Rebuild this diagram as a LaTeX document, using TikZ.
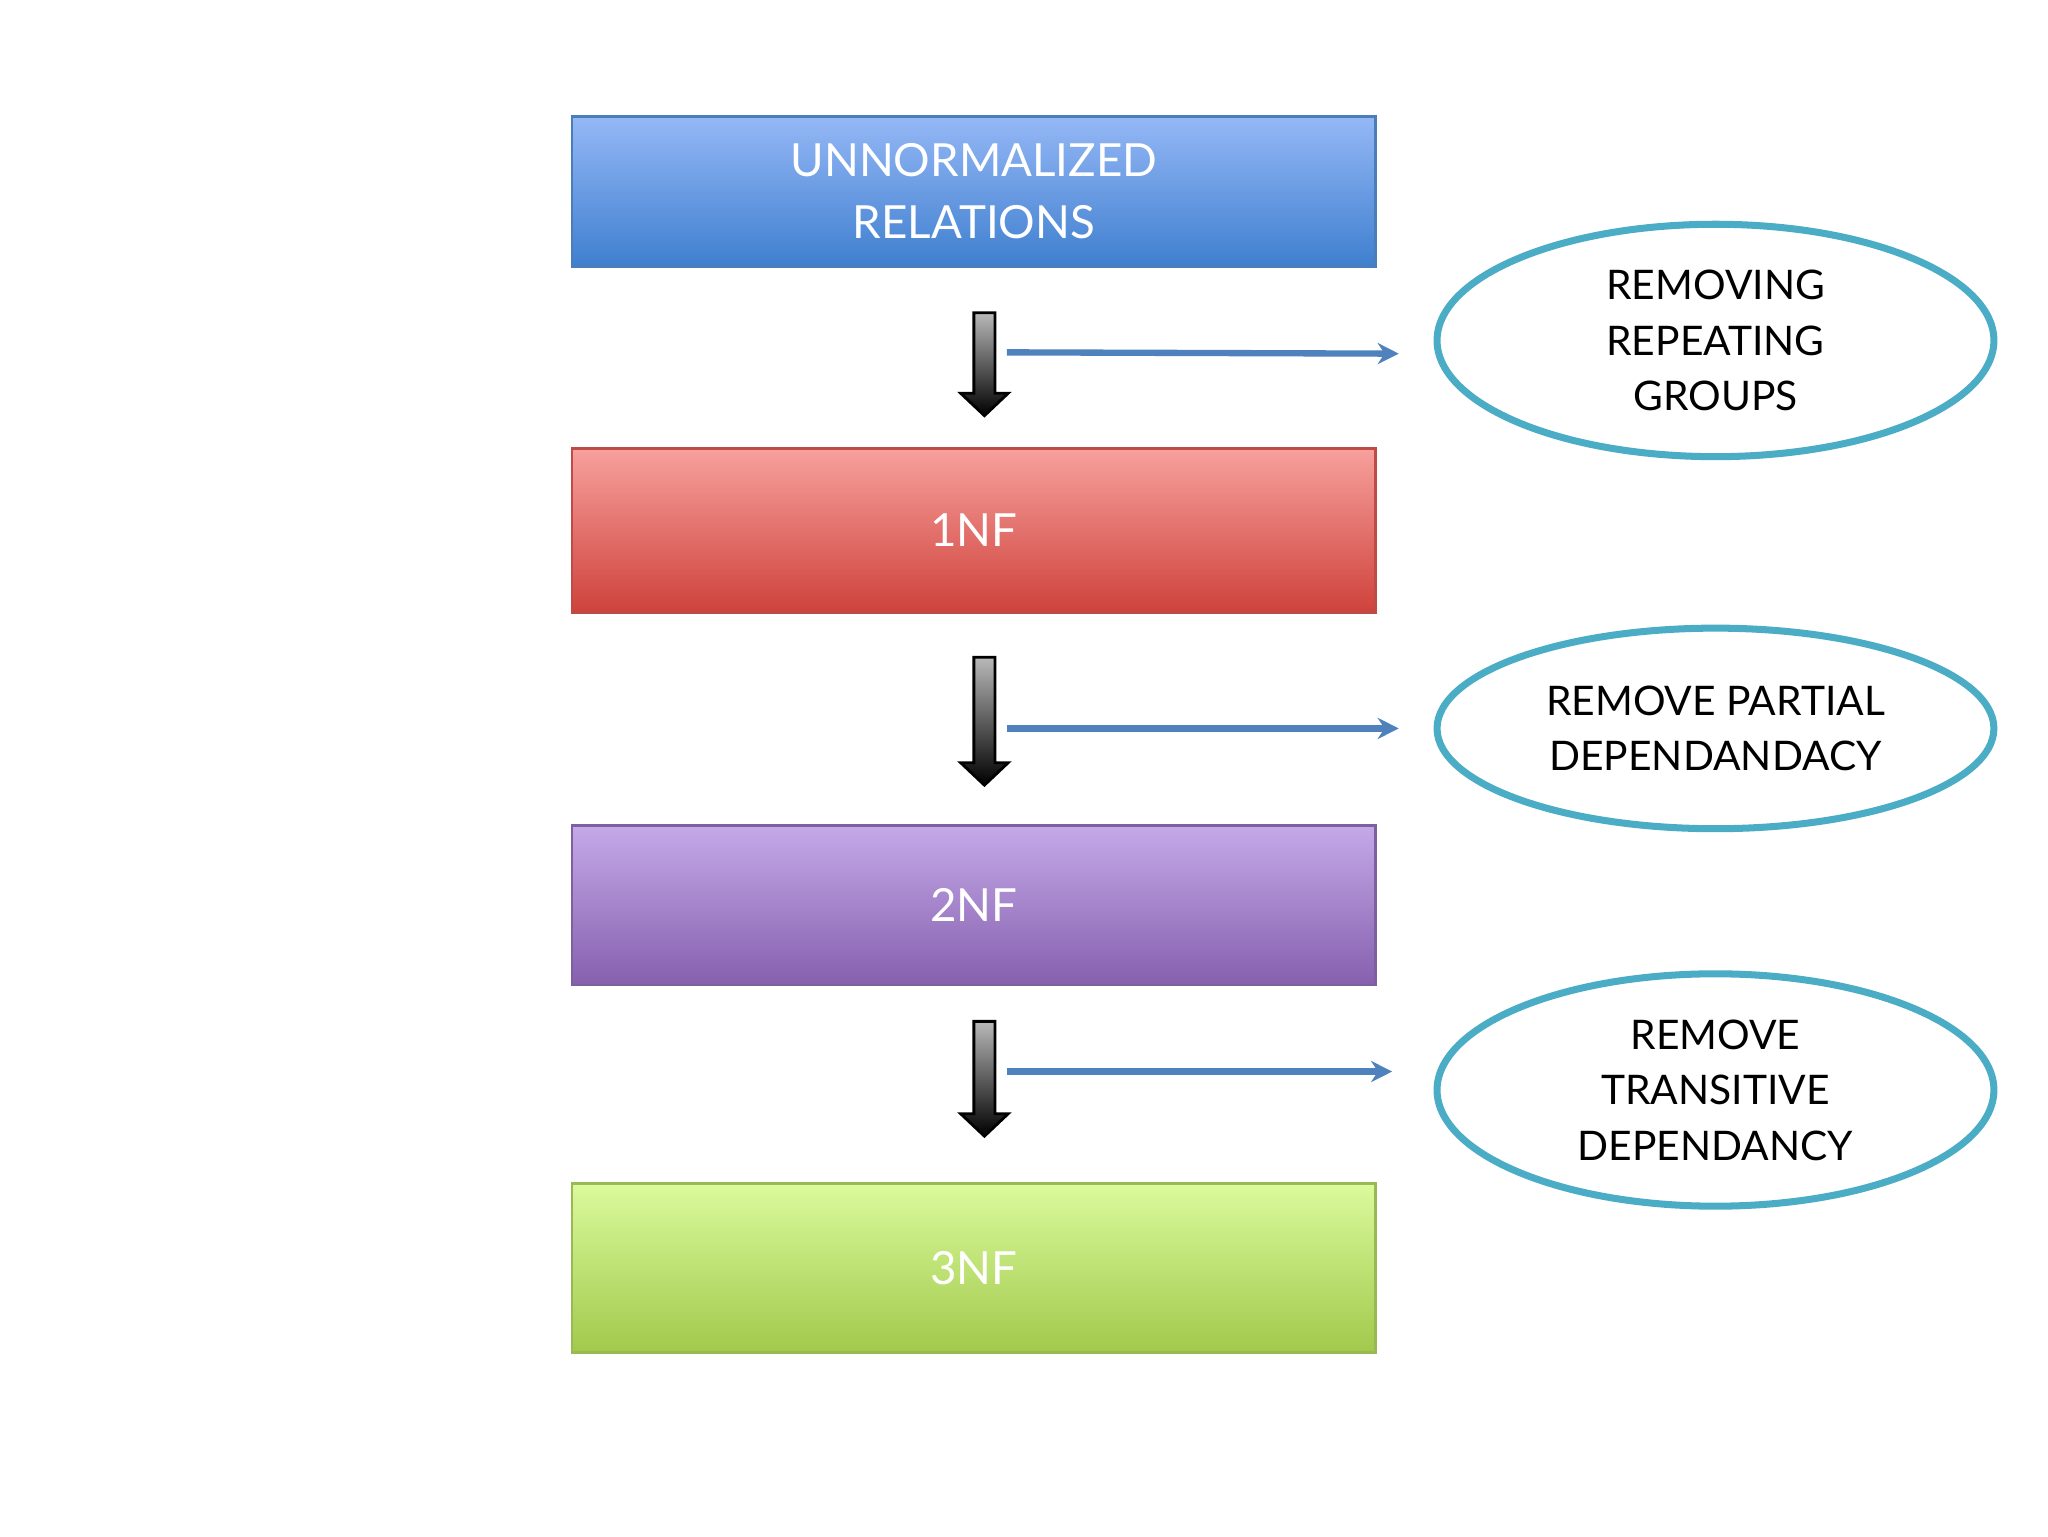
\documentclass[tikz,border=0pt]{standalone}
\usepackage{fontspec}
\setmainfont{Lato}
\usetikzlibrary{shapes.geometric,arrows.meta}
\definecolor{bT}{HTML}{95B8F6}\definecolor{bB}{HTML}{3F7FCF}\definecolor{bD}{HTML}{4A7EBB}
\definecolor{rT}{HTML}{F7A09C}\definecolor{rB}{HTML}{CF423C}\definecolor{rD}{HTML}{BE4B48}
\definecolor{vT}{HTML}{C4A9E8}\definecolor{vB}{HTML}{8660AE}\definecolor{vD}{HTML}{7D60A0}
\definecolor{gT}{HTML}{DAFA9C}\definecolor{gB}{HTML}{A2C94C}\definecolor{gD}{HTML}{98B954}
\definecolor{teal1}{HTML}{4BACC6}\definecolor{steel}{HTML}{4F81BD}
\begin{document}
\begin{tikzpicture}[x=0.0132cm,y=-0.0132cm,
 box/.style={draw=#1,line width=0.8pt,minimum width=609*0.0132cm,text=white,align=center,font=\fontsize{13}{17.8}\selectfont},
 ell/.style={draw=teal1,line width=2pt,ellipse,minimum width=422*0.0132cm,align=center,font=\fontsize{11.6}{15.8}\selectfont},
 flow/.style={draw=steel,line width=1.8pt,-{Stealth[length=6pt,width=6pt]}}]
\useasboundingbox (0,0) rectangle (1552,1164);
\node[box=bD,top color=bT,bottom color=bB,minimum height=114*0.0132cm] (b0) at (738,145) {UNNORMALIZED\\RELATIONS};
\node[box=rD,top color=rT,bottom color=rB,minimum height=124*0.0132cm] (b1) at (738,402) {1NF};
\node[box=vD,top color=vT,bottom color=vB,minimum height=121*0.0132cm] (b2) at (738,686) {2NF};
\node[box=gD,top color=gT,bottom color=gB,minimum height=128*0.0132cm] (b3) at (738,961) {3NF};
\node[ell,minimum height=164*0.0132cm] (e1) at (1300,258) {REMOVING\\REPEATING\\GROUPS};
\node[ell,minimum height=152*0.0132cm] (e2) at (1300,552) {REMOVE PARTIAL\\DEPENDANDACY};
\node[ell,minimum height=158*0.0132cm] (e3) at (1300,826) {REMOVE\\TRANSITIVE\\DEPENDANCY};
\foreach \t/\b/\h in {237/315/298, 498/595/578, 774/861/844}{
 \shade[top color=gray!55,bottom color=black,draw=black,line width=0.8pt]
  (738,\t)--(754,\t)--(754,\h)--(764,\h)--(746,\b)--(728,\h)--(738,\h)--cycle;}
\coordinate (s1) at (763,267); \coordinate (s2) at (763,552); \coordinate (s3) at (763,812);
\draw[flow] (s1) -- (1060,268);
\draw[flow] (s2) -- (1060,552);
\draw[flow] (s3) -- (1055,812);
\end{tikzpicture}
\end{document}
